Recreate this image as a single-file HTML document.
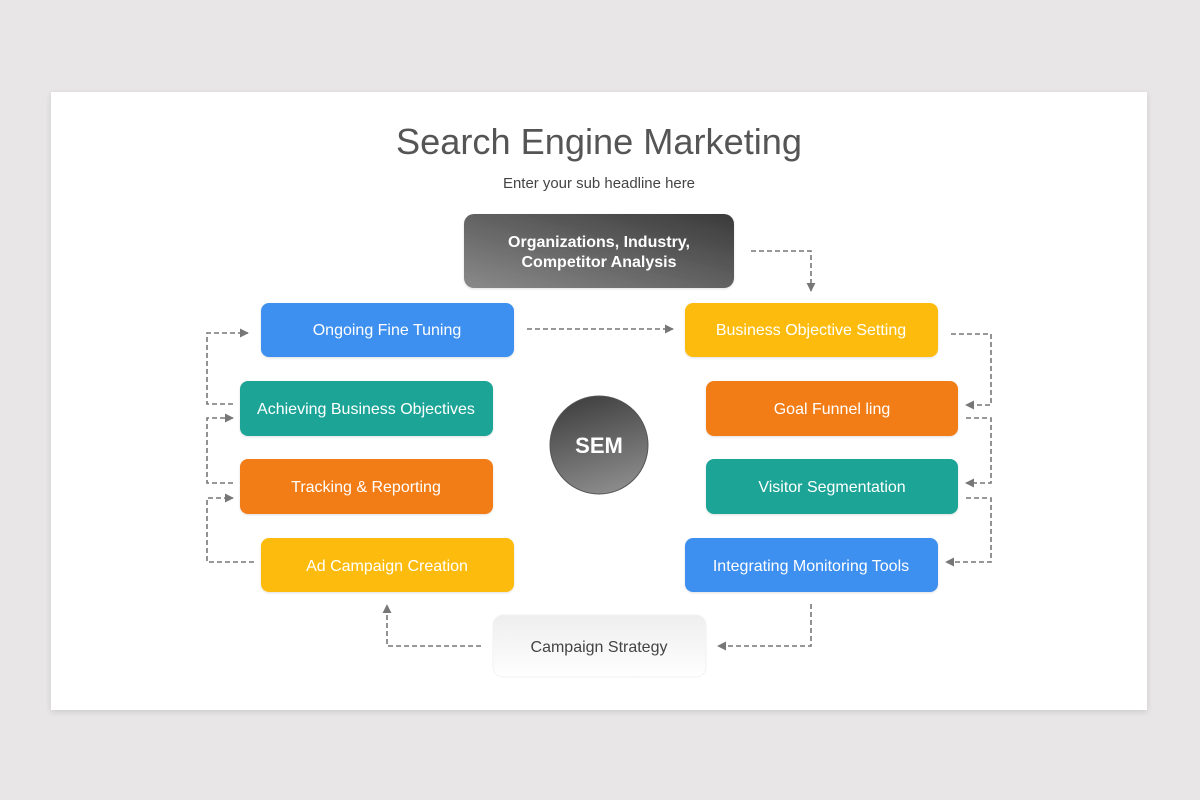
<!DOCTYPE html>
<html>
<head>
<meta charset="utf-8">
<style>
html,body{margin:0;padding:0;background:#e8e6e7;}
body{width:1200px;height:800px;overflow:hidden;position:relative;font-family:"Liberation Sans",Arial,sans-serif;}
.slide{position:absolute;left:51px;top:92px;width:1096px;height:618px;background:#fff;box-shadow:0 2px 6px rgba(0,0,0,0.12);}
svg{position:absolute;left:0;top:0;}
</style>
</head>
<body>
<div class="slide"></div>
<svg width="1200" height="800" viewBox="0 0 1200 800" xmlns="http://www.w3.org/2000/svg">
  <defs>
    <linearGradient id="gOrg" x1="0" y1="1" x2="1" y2="0">
      <stop offset="0" stop-color="#8a8a8a"/>
      <stop offset="0.55" stop-color="#5e5e5e"/>
      <stop offset="1" stop-color="#3a3a3a"/>
    </linearGradient>
    <linearGradient id="gSem" x1="0.3" y1="0" x2="0.6" y2="1">
      <stop offset="0" stop-color="#404040"/>
      <stop offset="1" stop-color="#8c8c8c"/>
    </linearGradient>
    <linearGradient id="gCS" x1="0" y1="0" x2="0" y2="1">
      <stop offset="0" stop-color="#eeeeee"/>
      <stop offset="1" stop-color="#ffffff"/>
    </linearGradient>
    <marker id="ar" viewBox="0 0 10 10" refX="9" refY="5" markerWidth="9" markerHeight="9" markerUnits="userSpaceOnUse" orient="auto">
      <path d="M0,0 L10,5 L0,10 z" fill="#777"/>
    </marker>
    <filter id="sh" x="-10%" y="-20%" width="120%" height="150%">
      <feDropShadow dx="0" dy="1" stdDeviation="1" flood-color="#000" flood-opacity="0.12"/>
    </filter>
  </defs>

  <!-- Title -->
  <text x="599" y="154" text-anchor="middle" font-size="36" fill="#555" font-family="Liberation Sans, sans-serif" textLength="406" lengthAdjust="spacingAndGlyphs">Search Engine Marketing</text>
  <text x="599" y="188" text-anchor="middle" font-size="15" fill="#444" font-family="Liberation Sans, sans-serif" textLength="192" lengthAdjust="spacingAndGlyphs">Enter your sub headline here</text>

  <!-- Org box -->
  <rect x="464" y="214" width="270" height="74" rx="10" fill="url(#gOrg)" filter="url(#sh)"/>
  <text x="599" y="247" text-anchor="middle" font-size="16" font-weight="bold" fill="#fff">Organizations, Industry,</text>
  <text x="599" y="267" text-anchor="middle" font-size="16" font-weight="bold" fill="#fff">Competitor Analysis</text>

  <!-- Boxes -->
  <g font-size="16" fill="#fff" text-anchor="middle" font-family="Liberation Sans, sans-serif">
    <rect x="261" y="303" width="253" height="54" rx="8" fill="#3d8ff0" filter="url(#sh)"/>
    <text x="387" y="335" fill="#fff">Ongoing Fine Tuning</text>

    <rect x="685" y="303" width="253" height="54" rx="8" fill="#fdbc0b" filter="url(#sh)"/>
    <text x="811" y="335" fill="#fff">Business Objective Setting</text>

    <rect x="240" y="381" width="253" height="55" rx="8" fill="#1ea597" filter="url(#sh)"/>
    <text x="366" y="414" fill="#fff">Achieving Business Objectives</text>

    <rect x="706" y="381" width="252" height="55" rx="8" fill="#f27b13" filter="url(#sh)"/>
    <text x="832" y="414" fill="#fff">Goal Funnel ling</text>

    <rect x="240" y="459" width="253" height="55" rx="8" fill="#f27b13" filter="url(#sh)"/>
    <text x="366" y="492" fill="#fff">Tracking &amp; Reporting</text>

    <rect x="706" y="459" width="252" height="55" rx="8" fill="#1ea597" filter="url(#sh)"/>
    <text x="832" y="492" fill="#fff">Visitor Segmentation</text>

    <rect x="261" y="538" width="253" height="54" rx="8" fill="#fdbc0b" filter="url(#sh)"/>
    <text x="387" y="571" fill="#fff">Ad Campaign Creation</text>

    <rect x="685" y="538" width="253" height="54" rx="8" fill="#3d8ff0" filter="url(#sh)"/>
    <text x="811" y="571" fill="#fff">Integrating Monitoring Tools</text>
  </g>

  <!-- Campaign Strategy -->
  <rect x="493" y="615" width="213" height="62" rx="10" fill="url(#gCS)" stroke="#f2f2f2" stroke-width="1"/>
  <text x="599" y="652" text-anchor="middle" font-size="16" fill="#444">Campaign Strategy</text>

  <!-- SEM circle -->
  <circle cx="599" cy="445" r="49" fill="url(#gSem)" stroke="#555" stroke-width="1"/>
  <text x="599" y="453" text-anchor="middle" font-size="22" font-weight="bold" fill="#fff">SEM</text>

  <!-- Connectors -->
  <g fill="none" stroke="#777" stroke-width="1.6" stroke-dasharray="5,3">
    <path d="M751,251 H811 V291" marker-end="url(#ar)"/>
    <path d="M527,329 H673" marker-end="url(#ar)"/>
    <path d="M951,334 H991 V405 H966" marker-end="url(#ar)"/>
    <path d="M966,418 H991 V483 H966" marker-end="url(#ar)"/>
    <path d="M966,498 H991 V562 H946" marker-end="url(#ar)"/>
    <path d="M811,604 V646 H718" marker-end="url(#ar)"/>
    <path d="M481,646 H387 V605" marker-end="url(#ar)"/>
    <path d="M254,562 H207 V498 H233" marker-end="url(#ar)"/>
    <path d="M233,483 H207 V418 H233" marker-end="url(#ar)"/>
    <path d="M233,404 H207 V333 H248" marker-end="url(#ar)"/>
  </g>
</svg>
</body>
</html>
